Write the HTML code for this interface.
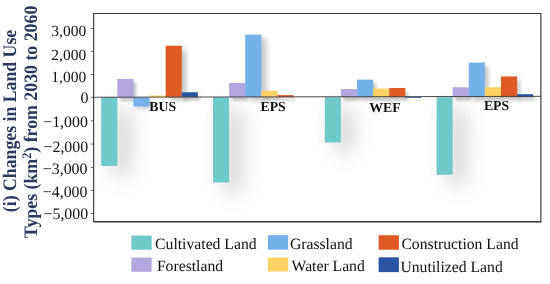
<!DOCTYPE html>
<html><head><meta charset="utf-8"><title>Changes in Land Use Types</title>
<style>
html,body{margin:0;padding:0;background:#fff;}
body{width:550px;height:284px;overflow:hidden;position:relative;}
svg{position:absolute;left:0;top:0;display:block;}
text{font-family:"Liberation Serif","Times New Roman",serif;text-rendering:geometricPrecision;}
.tick{font-size:15.9px;fill:#111;}
.leg{font-size:15.7px;fill:#111;}
.grp{font-size:13.75px;font-weight:bold;fill:#111;}
.yl{font-size:19px;font-weight:bold;fill:#2a3a5c;}
</style></head><body>
<svg width="550" height="284" viewBox="0 0 550 284">
<rect x="0" y="0" width="550" height="284" fill="#fff"/>
<defs>
<filter id="b1" filterUnits="userSpaceOnUse" x="78.2" y="72.7" width="86.1" height="138.7"><feGaussianBlur stdDeviation="11.00"/></filter>
<filter id="b2" filterUnits="userSpaceOnUse" x="112.7" y="74.9" width="31.2" height="33.3"><feGaussianBlur stdDeviation="1.85"/></filter>
<filter id="b3" filterUnits="userSpaceOnUse" x="127.4" y="90.9" width="32.8" height="25.9"><feGaussianBlur stdDeviation="2.12"/></filter>
<filter id="b4" filterUnits="userSpaceOnUse" x="159.7" y="38.7" width="37.2" height="72.6"><feGaussianBlur stdDeviation="2.85"/></filter>
<filter id="b5" filterUnits="userSpaceOnUse" x="177.6" y="89.4" width="28.8" height="17.7"><feGaussianBlur stdDeviation="1.45"/></filter>
<filter id="b6" filterUnits="userSpaceOnUse" x="190.0" y="72.7" width="86.1" height="155.2"><feGaussianBlur stdDeviation="11.00"/></filter>
<filter id="b7" filterUnits="userSpaceOnUse" x="224.6" y="79.3" width="30.5" height="28.6"><feGaussianBlur stdDeviation="1.73"/></filter>
<filter id="b8" filterUnits="userSpaceOnUse" x="238.8" y="26.6" width="39.2" height="85.7"><feGaussianBlur stdDeviation="3.18"/></filter>
<filter id="b9" filterUnits="userSpaceOnUse" x="257.2" y="87.7" width="29.1" height="19.4"><feGaussianBlur stdDeviation="1.49"/></filter>
<filter id="b10" filterUnits="userSpaceOnUse" x="273.4" y="92.5" width="28.3" height="14.3"><feGaussianBlur stdDeviation="1.36"/></filter>
<filter id="b11" filterUnits="userSpaceOnUse" x="303.0" y="74.0" width="82.4" height="111.5"><feGaussianBlur stdDeviation="10.38"/></filter>
<filter id="b12" filterUnits="userSpaceOnUse" x="336.7" y="85.9" width="29.4" height="21.5"><feGaussianBlur stdDeviation="1.55"/></filter>
<filter id="b13" filterUnits="userSpaceOnUse" x="352.4" y="75.7" width="31.1" height="32.5"><feGaussianBlur stdDeviation="1.83"/></filter>
<filter id="b14" filterUnits="userSpaceOnUse" x="368.8" y="85.4" width="29.5" height="22.0"><feGaussianBlur stdDeviation="1.56"/></filter>
<filter id="b15" filterUnits="userSpaceOnUse" x="384.9" y="84.7" width="29.6" height="22.7"><feGaussianBlur stdDeviation="1.58"/></filter>
<filter id="b16" filterUnits="userSpaceOnUse" x="413.6" y="72.7" width="86.1" height="147.5"><feGaussianBlur stdDeviation="11.00"/></filter>
<filter id="b17" filterUnits="userSpaceOnUse" x="448.4" y="84.0" width="29.7" height="23.5"><feGaussianBlur stdDeviation="1.60"/></filter>
<filter id="b18" filterUnits="userSpaceOnUse" x="463.5" y="57.0" width="34.1" height="52.7"><feGaussianBlur stdDeviation="2.34"/></filter>
<filter id="b19" filterUnits="userSpaceOnUse" x="480.6" y="84.0" width="29.7" height="23.5"><feGaussianBlur stdDeviation="1.60"/></filter>
<filter id="b20" filterUnits="userSpaceOnUse" x="496.2" y="72.1" width="31.6" height="36.3"><feGaussianBlur stdDeviation="1.92"/></filter>
<filter id="b21" filterUnits="userSpaceOnUse" x="513.0" y="91.5" width="28.4" height="15.3"><feGaussianBlur stdDeviation="1.39"/></filter>
</defs>
<g>
<rect x="113.24" y="107.70" width="16.10" height="68.72" fill="#000" opacity="0.2" filter="url(#b1)"/>
<rect x="120.25" y="82.45" width="16.10" height="18.25" fill="#000" opacity="0.22" filter="url(#b2)"/>
<rect x="135.75" y="99.22" width="16.10" height="9.24" fill="#000" opacity="0.2" filter="url(#b3)"/>
<rect x="170.21" y="49.19" width="16.10" height="51.51" fill="#000" opacity="0.22" filter="url(#b4)"/>
<rect x="183.99" y="95.73" width="16.10" height="4.97" fill="#000" opacity="0.22" filter="url(#b5)"/>
<rect x="225.01" y="107.70" width="16.10" height="85.24" fill="#000" opacity="0.2" filter="url(#b6)"/>
<rect x="231.82" y="86.49" width="16.10" height="14.21" fill="#000" opacity="0.22" filter="url(#b7)"/>
<rect x="250.34" y="38.10" width="16.10" height="62.60" fill="#000" opacity="0.22" filter="url(#b8)"/>
<rect x="263.64" y="94.23" width="16.10" height="6.47" fill="#000" opacity="0.22" filter="url(#b9)"/>
<rect x="279.52" y="98.62" width="16.10" height="2.08" fill="#000" opacity="0.22" filter="url(#b10)"/>
<rect x="336.11" y="107.10" width="16.10" height="45.28" fill="#000" opacity="0.2" filter="url(#b11)"/>
<rect x="343.30" y="92.50" width="16.10" height="8.20" fill="#000" opacity="0.22" filter="url(#b12)"/>
<rect x="359.87" y="83.14" width="16.10" height="17.56" fill="#000" opacity="0.22" filter="url(#b13)"/>
<rect x="375.52" y="92.04" width="16.10" height="8.66" fill="#000" opacity="0.22" filter="url(#b14)"/>
<rect x="391.65" y="91.46" width="16.10" height="9.24" fill="#000" opacity="0.22" filter="url(#b15)"/>
<rect x="448.56" y="107.70" width="16.10" height="77.50" fill="#000" opacity="0.2" filter="url(#b16)"/>
<rect x="455.16" y="90.77" width="16.10" height="9.93" fill="#000" opacity="0.22" filter="url(#b17)"/>
<rect x="472.50" y="66.05" width="16.10" height="34.65" fill="#000" opacity="0.22" filter="url(#b18)"/>
<rect x="487.36" y="90.77" width="16.10" height="9.93" fill="#000" opacity="0.22" filter="url(#b19)"/>
<rect x="504.00" y="79.91" width="16.10" height="20.79" fill="#000" opacity="0.22" filter="url(#b20)"/>
<rect x="519.21" y="97.70" width="16.10" height="3.00" fill="#000" opacity="0.22" filter="url(#b21)"/>
</g>
<g>
<rect x="101.24" y="97.20" width="16.10" height="68.72" fill="#6ec9c9"/>
<rect x="117.34" y="78.95" width="16.10" height="18.25" fill="#b4a6de"/>
<rect x="133.44" y="97.20" width="16.10" height="9.24" fill="#74b0ea"/>
<rect x="149.54" y="95.58" width="16.10" height="1.62" fill="#fcd264"/>
<rect x="165.64" y="45.69" width="16.10" height="51.51" fill="#e05a25"/>
<rect x="181.74" y="92.23" width="16.10" height="4.97" fill="#2b55a2"/>
<rect x="213.01" y="97.20" width="16.10" height="85.24" fill="#6ec9c9"/>
<rect x="229.11" y="82.99" width="16.10" height="14.21" fill="#b4a6de"/>
<rect x="245.21" y="34.60" width="16.10" height="62.60" fill="#74b0ea"/>
<rect x="261.31" y="90.73" width="16.10" height="6.47" fill="#fcd264"/>
<rect x="277.41" y="95.12" width="16.10" height="2.08" fill="#e05a25"/>
<rect x="324.79" y="97.20" width="16.10" height="45.28" fill="#6ec9c9"/>
<rect x="340.89" y="89.00" width="16.10" height="8.20" fill="#b4a6de"/>
<rect x="356.99" y="79.64" width="16.10" height="17.56" fill="#74b0ea"/>
<rect x="373.09" y="88.54" width="16.10" height="8.66" fill="#fcd264"/>
<rect x="389.19" y="87.96" width="16.10" height="9.24" fill="#e05a25"/>
<rect x="405.29" y="97.20" width="16.10" height="0.81" fill="#2b55a2"/>
<rect x="436.56" y="97.20" width="16.10" height="77.50" fill="#6ec9c9"/>
<rect x="452.66" y="87.27" width="16.10" height="9.93" fill="#b4a6de"/>
<rect x="468.76" y="62.55" width="16.10" height="34.65" fill="#74b0ea"/>
<rect x="484.86" y="87.27" width="16.10" height="9.93" fill="#fcd264"/>
<rect x="500.96" y="76.41" width="16.10" height="20.79" fill="#e05a25"/>
<rect x="517.06" y="94.20" width="16.10" height="3.00" fill="#2b55a2"/>
</g>
<line x1="93.65" y1="97.25" x2="540.75" y2="96.35" stroke="#4a4a4a" stroke-width="1"/>
<path d="M93.65 221.7 V13.5 H540.85 V221.7" fill="none" stroke="#383838" stroke-width="1.15"/>
<line x1="93.15" y1="221.75" x2="541.35" y2="221.75" stroke="#383838" stroke-width="1.35"/>
<line x1="90.85000000000001" y1="28.50" x2="93.65" y2="28.50" stroke="#505050" stroke-width="0.9"/>
<text class="tick" x="86.2" y="36.1" text-anchor="end" style="font-size:15.5px">3,000</text>
<line x1="90.85000000000001" y1="51.30" x2="93.65" y2="51.30" stroke="#505050" stroke-width="0.9"/>
<text class="tick" x="86.2" y="60.1" text-anchor="end" style="font-size:15.5px">2,000</text>
<line x1="90.85000000000001" y1="74.50" x2="93.65" y2="74.50" stroke="#505050" stroke-width="0.9"/>
<text class="tick" x="86.2" y="81.5" text-anchor="end" style="font-size:15.5px">1,000</text>
<line x1="90.85000000000001" y1="97.30" x2="93.65" y2="97.30" stroke="#505050" stroke-width="0.9"/>
<text class="tick" x="88.4" y="103.3" text-anchor="end">0</text>
<line x1="90.85000000000001" y1="120.80" x2="93.65" y2="120.80" stroke="#505050" stroke-width="0.9"/>
<text class="tick" x="87.9" y="127.4" text-anchor="end">−1,000</text>
<line x1="90.85000000000001" y1="144.10" x2="93.65" y2="144.10" stroke="#505050" stroke-width="0.9"/>
<text class="tick" x="88.2" y="151.5" text-anchor="end">−2,000</text>
<line x1="90.85000000000001" y1="167.40" x2="93.65" y2="167.40" stroke="#505050" stroke-width="0.9"/>
<text class="tick" x="87.5" y="173.9" text-anchor="end">−3,000</text>
<line x1="90.85000000000001" y1="190.40" x2="93.65" y2="190.40" stroke="#505050" stroke-width="0.9"/>
<text class="tick" x="87.5" y="196.9" text-anchor="end">−4,000</text>
<line x1="90.85000000000001" y1="213.50" x2="93.65" y2="213.50" stroke="#505050" stroke-width="0.9"/>
<text class="tick" x="88.2" y="218.8" text-anchor="end">−5,000</text>
<text class="grp" x="162.7" y="110.5" text-anchor="middle">BUS</text>
<text class="grp" x="273.1" y="111.4" text-anchor="middle">EPS</text>
<text class="grp" x="385" y="111.5" text-anchor="middle">WEF</text>
<text class="grp" x="496.5" y="110.3" text-anchor="middle">EPS</text>
<text class="yl" transform="translate(15.7,121.0) rotate(-90) scale(0.934,1)" text-anchor="middle">(i) Changes in Land Use</text>
<text class="yl" transform="translate(36.6,121.9) rotate(-90) scale(0.937,1)" text-anchor="middle">Types (km<tspan font-size="13" dy="-5.5">2</tspan><tspan dy="5.5">) from 2030 to 2060</tspan></text>
<rect x="131.4" y="235.6" width="20.3" height="14.1" fill="#6ec9c9"/>
<text class="leg" x="155.1" y="248.7">Cultivated Land</text>
<rect x="131.4" y="257.6" width="20.3" height="14.2" fill="#b4a6de"/>
<text class="leg" x="156.9" y="271.3">Forestland</text>
<rect x="267.9" y="235.2" width="20.3" height="14.5" fill="#74b0ea"/>
<text class="leg" x="289.9" y="248.7">Grassland</text>
<rect x="267.9" y="257.6" width="20.3" height="13.9" fill="#fcd264"/>
<text class="leg" x="291.6" y="271.0">Water Land</text>
<rect x="378.6" y="235.2" width="20.3" height="14.5" fill="#e05a25"/>
<text class="leg" x="401.4" y="249.0">Construction Land</text>
<rect x="378.6" y="257.3" width="20.3" height="14.8" fill="#2b55a2"/>
<text class="leg" x="400.4" y="271.5">Unutilized Land</text>
</svg>
</body></html>
